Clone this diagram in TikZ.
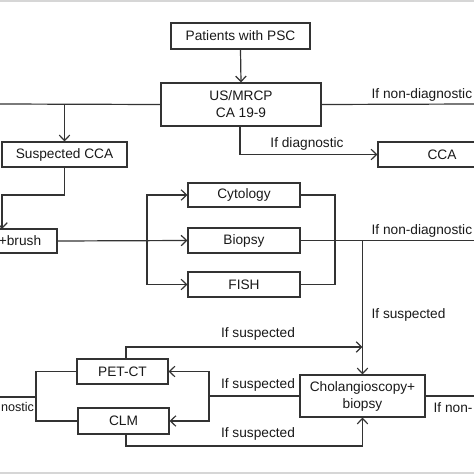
\documentclass[tikz,border=0pt]{standalone}
\usepackage{fontspec}
\setmainfont{Liberation Sans}
\usetikzlibrary{arrows.meta}
\begin{document}
\begin{tikzpicture}[x=1pt,y=-1pt,
  line width=1.2pt,
  every node/.style={font=\fontsize{13.7}{17}\selectfont, text=black!90},
  box/.style={draw=black!80, line width=1.1pt, inner sep=0pt, align=center},
  conn/.style={draw=black!80, line width=1.2pt},
  arr/.style={conn, -{Straight Barb[length=5.5pt,width=10.5pt,line width=1.2pt]}},
  lbl/.style={inner sep=0pt}]
\useasboundingbox (0,0) rectangle (474,474);
\clip (0,0) rectangle (474,474);
\fill[black!16] (0,0) rectangle (474,2);
\fill[black!16] (0,472) rectangle (474,474);

% boxes
\node[box, minimum width=139pt, minimum height=26pt] (psc) at (240.5,36) {Patients with PSC};
\node[box, minimum width=160pt, minimum height=43pt] (us) at (241,104.5) {US/MRCP\\CA 19-9};
\node[box, minimum width=125pt, minimum height=25pt] (susp) at (64.5,154.5) {Suspected CCA};
\node[box, minimum width=128pt, minimum height=25pt] (cca) at (442,154.5) {CCA};
\node[box, minimum width=74pt, minimum height=24pt] (ercp) at (20,241) {+brush};
\node[box, minimum width=112pt, minimum height=24pt] (cyto) at (244,195) {Cytology};
\node[box, minimum width=112pt, minimum height=25pt] (biop) at (244,240.5) {Biopsy};
\node[box, minimum width=112pt, minimum height=25pt] (fish) at (244,284.5) {FISH};
\node[box, minimum width=125pt, minimum height=42pt] (chol) at (362.5,396) {Cholangioscopy+\\biopsy};
\node[box, minimum width=91pt, minimum height=25pt] (pet) at (122.5,371.5) {PET-CT};
\node[box, minimum width=91pt, minimum height=26pt] (clm) at (123.5,421) {CLM};

% free ends
\coordinate (usL) at (0,104);
\coordinate (usR) at (474,104);
\coordinate (bR) at (474,240.5);
\coordinate (cR) at (474,396);
\coordinate (nL) at (0,397);

% top part
\draw[arr] (psc.south) -- (us.north);
\draw[conn] (us.west) -- (usL);
\draw[arr] (susp.north |- us.west) -- (susp.north);
\draw[conn] (us.east) -- (usR);
\node[lbl, anchor=west] (l1) at (371,95) {If non-diagnostic};
\draw[arr] (240,126) |- (cca.west);
\node[lbl] (l2) at (307,144) {If diagnostic};
\draw[arr] (susp.south) |- (2,195) -- (2,229);

% middle part
\draw[arr] (ercp.east) -- (biop.west);
\draw[arr] (147,240.5) |- (cyto.west);
\draw[arr] (147,240.5) |- (fish.west);
\draw[conn] (cyto.east) -| (335,240.5) |- (fish.east);
\draw[conn] (biop.east) -- (bR);
\node[lbl, anchor=west] (l3) at (371,231) {If non-diagnostic};
\draw[arr] (chol.north |- biop.east) -- (chol.north);
\node[lbl, anchor=west] (l4) at (371,315) {If suspected};

% bottom part
\draw[conn] (chol.east) -- (cR);
\node[lbl, anchor=west] (l5) at (433,408) {If non-};
\draw[arr] (pet.north -| 126,0) |- (chol.north |- 0,347);
\node[lbl] (l6) at (258,334) {If suspected};
\draw[conn] (chol.west) -- (209,396);
\node[lbl] (l7) at (258,385) {If suspected};
\draw[arr] (209,396) |- (pet.east);
\draw[arr] (209,396) |- (clm.east);
\draw[arr] (clm.south -| 126,0) |- (362.5,446) -- (chol.south);
\node[lbl] (l8) at (258,434) {If suspected};
\draw[conn] (pet.west) -| (36,397) |- (clm.west);
\draw[conn] (36,397) -- (nL);
\node[lbl, anchor=west, font=\fontsize{12.6}{15}\selectfont] (l9) at (0.5,407) {nostic};
\end{tikzpicture}
\end{document}
